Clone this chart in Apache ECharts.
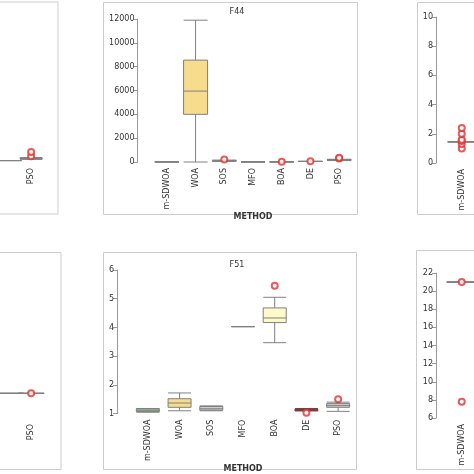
<!DOCTYPE html>
<html><head><meta charset="utf-8">
<script src="https://cdn.jsdelivr.net/npm/echarts@6/dist/echarts.min.js"></script>
<style>html,body{margin:0;padding:0;background:#fff}#c{width:474px;height:474px}</style>
</head><body><div id="c"></div>
<script>
var methods = ['m-SDWOA','WOA','SOS','MFO','BOA','DE','PSO'];
// F44 box stats [min,Q1,median,Q3,max]
var f44Box = [[0,0,5,10,15],[0,4000,5950,8550,11900],[50,80,100,130,160],[0,0,5,10,15],[0,5,10,15,20],[40,45,50,55,60],[120,150,180,200,230]];
var f44Out = [['SOS',200],['BOA',20],['DE',60],['PSO',300],['PSO',350]];
var f44Ticks = [0,2000,4000,6000,8000,10000,12000];
// F51
var f51Box = [[1.05,1.07,1.1,1.17,1.18],[1.1,1.22,1.37,1.52,1.72],[1.1,1.12,1.17,1.25,1.27],[4.03,4.03,4.03,4.03,4.03],[3.47,4.17,4.33,4.68,5.05],[1.1,1.1,1.12,1.15,1.18],[1.08,1.22,1.28,1.35,1.4]];
var f51Out = [['BOA',5.45],['DE',1.03],['PSO',1.5]];
var f51Ticks = [1,2,3,4,5,6];
// partial panels
var trBox = [[1.45,1.45,1.45,1.45,1.45]];
var trOut = [['m-SDWOA',1.0],['m-SDWOA',1.3],['m-SDWOA',1.5],['m-SDWOA',1.6],['m-SDWOA',2.0],['m-SDWOA',2.4]];
var brBox = [[21,21,21,21,21]];
var brOut = [['m-SDWOA',21],['m-SDWOA',7.8]];
var tlBox = [[0.1,0.1,0.1,0.1,0.1],[0.2,0.2,0.25,0.3,0.3]];
var tlOut = [['PSO',0.4],['PSO',0.7]];
var blBox = [[1.0,1.0,1.0,1.0,1.0],[1.0,1.0,1.0,1.0,1.0]];
var blOut = [['PSO',1.0]];

var boxColors = {
  f44: ['#888','#f7dc8e','#bbb','#888','#888','#888','#666'],
  f51: ['#8fbf8f','#f7dc8e','#cfcfcf','#888','#fff8c8','#7a3b3b','#cfcfcf']
};
var grids=[],xAxes=[],yAxes=[],series=[];
function panel(opt){
  var i=grids.length;
  grids.push({left:opt.left,top:opt.top,width:opt.width,height:opt.height,containLabel:false});
  xAxes.push({type:'category',gridIndex:i,data:opt.cats,axisLine:{show:false},axisTick:{show:false},
    axisLabel:{rotate:90,fontSize:8,color:'#333',fontFamily:'DejaVu Sans',margin:6,
      formatter:function(v){return (opt.hide&&opt.hide.indexOf(v)>=0)?'':v;}},
    name:opt.xname||'',nameLocation:'middle',nameGap:opt.nameGap||45,nameTextStyle:{fontSize:8,fontWeight:'bold',color:'#333',fontFamily:'DejaVu Sans'}});
  yAxes.push({type:'value',gridIndex:i,min:opt.min,max:opt.max,interval:opt.interval,offset:opt.offset||0,show:opt.showY!==false,
    splitLine:{show:false},axisLine:{show:true,lineStyle:{color:'#999'}},axisTick:{show:true,length:4,lineStyle:{color:'#999'}},
    axisLabel:{fontSize:8,color:'#333',fontFamily:'DejaVu Sans',margin:3,formatter:function(v){return String(v);}}});
  series.push({type:'boxplot',xAxisIndex:i,yAxisIndex:i,boxWidth:[opt.bw,opt.bw],
    data:opt.box.map(function(b,k){return {value:b,itemStyle:{color:opt.colors?opt.colors[k]:'#888',borderColor:(opt.colors&&k==5&&opt.key=='f51')?'#7a3b3b':'#808080',borderWidth:1}};}),
    silent:true,animation:false,z:2});
  series.push({type:'scatter',xAxisIndex:i,yAxisIndex:i,data:opt.out,symbol:'emptyCircle',symbolSize:6,
    itemStyle:{color:'#d33',borderColor:'#d33',borderWidth:1},animation:false,z:3});
}
panel({left:152.5,top:19,width:201,height:143,cats:methods,min:0,max:12000,interval:2000,offset:15,bw:24,box:f44Box,out:f44Out,colors:boxColors.f44,xname:'METHOD',nameGap:45,key:'f44'});
panel({left:132,top:270,width:222,height:148,cats:methods,min:1,max:6,interval:1,offset:15,bw:23,box:f51Box,out:f51Out,colors:boxColors.f51,xname:'METHOD',nameGap:44,key:'f51'});
panel({left:449.5,top:17,width:29,height:146,cats:['m-SDWOA'],min:0,max:10,interval:2,offset:13.5,bw:28,box:trBox,out:trOut});
panel({left:449.5,top:273,width:29,height:145,cats:['m-SDWOA'],min:6,max:22,interval:2,offset:13.5,bw:30,box:brBox,out:brOut});
panel({left:-24.5,top:19,width:66,height:143,cats:['DE','PSO'],hide:['DE'],min:0,max:10,interval:2,showY:false,bw:22,box:tlBox,out:tlOut});
panel({left:-24.5,top:270,width:66,height:148,cats:['DE','PSO'],hide:['DE'],min:0,max:6,interval:1,showY:false,bw:26,box:blBox,out:blOut});

var frame={type:'rect',silent:true,style:{fill:'none',stroke:'#ccc',lineWidth:1}};
function fr(x,y,w,h){return Object.assign({},frame,{shape:{x:x,y:y,width:w,height:h}});}
var chart=echarts.init(document.getElementById('c'));
chart.setOption({
  animation:false,
  title:[{text:'F44',left:232,top:3,textAlign:'center',textStyle:{fontSize:8,fontWeight:'normal',color:'#333',fontFamily:'DejaVu Sans'}},
         {text:'F51',left:232,top:256,textAlign:'center',textStyle:{fontSize:8,fontWeight:'normal',color:'#333',fontFamily:'DejaVu Sans'}}],
  graphic:[fr(-10,2,68,212),fr(103.5,2.5,254,212),fr(417.5,2.5,70,212),fr(-10,252.5,71,217),fr(103.5,252.5,253,217),fr(416.5,250.5,70,219)],
  grid:grids,xAxis:xAxes,yAxis:yAxes,series:series
});
</script></body></html>
